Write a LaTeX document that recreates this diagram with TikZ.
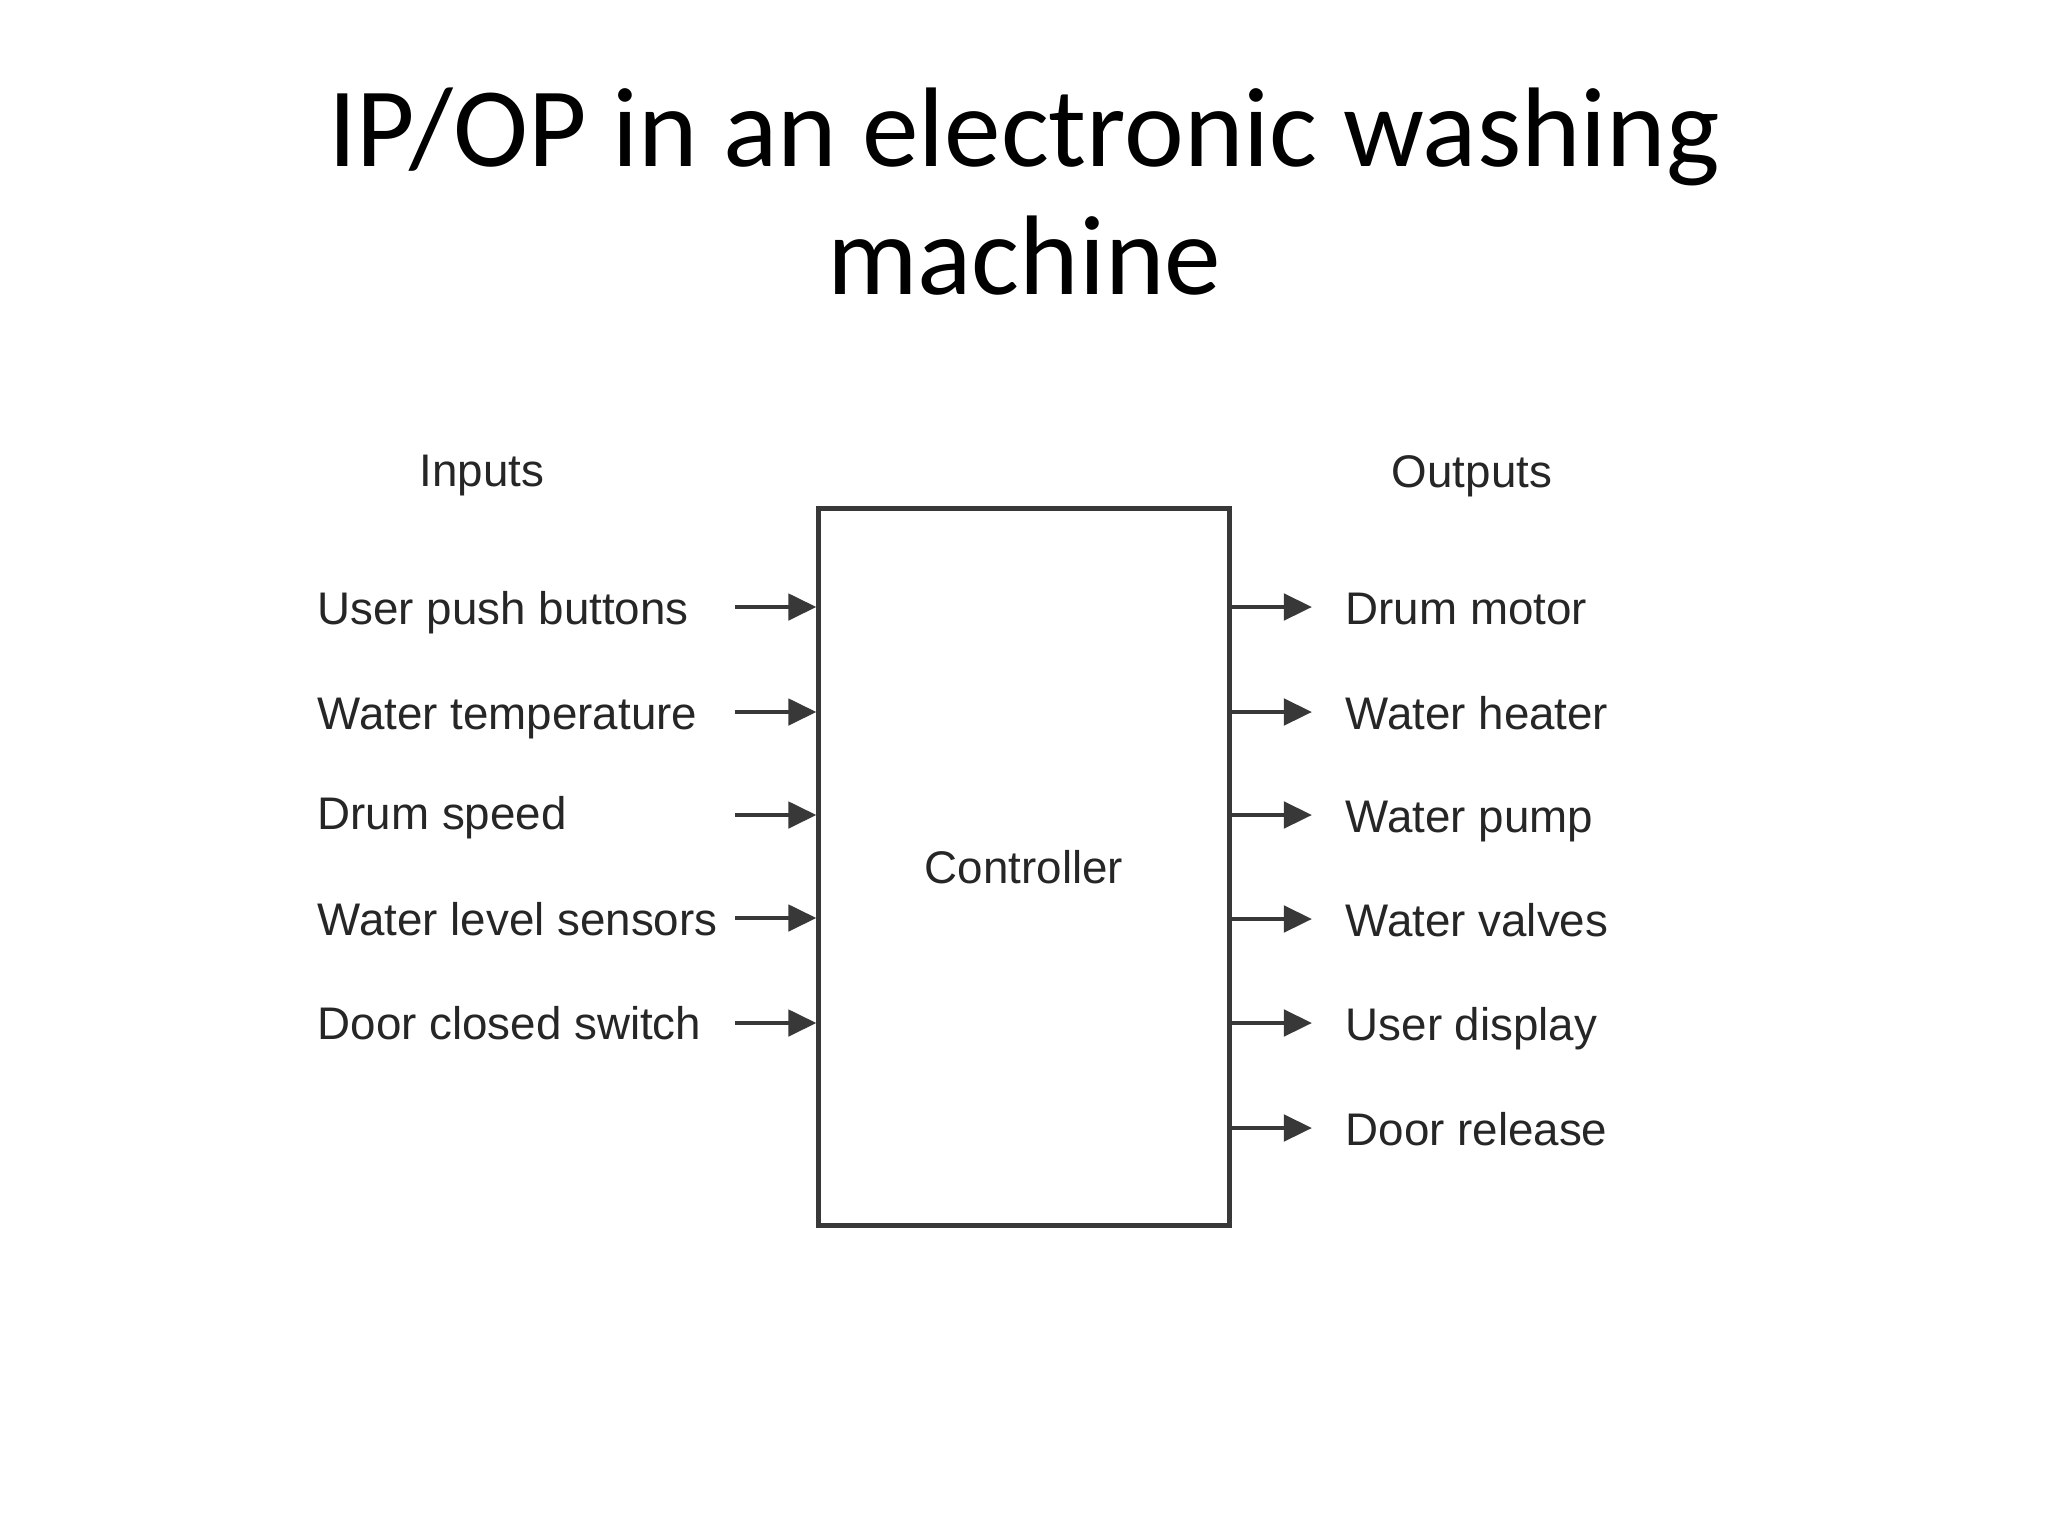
\documentclass[tikz,border=0pt]{standalone}
\usepackage{fontspec}
\setmainfont{Carlito}
\newfontfamily\labfont{Liberation Sans}
\usetikzlibrary{arrows.meta}
\definecolor{ink}{HTML}{262626}
\definecolor{linecol}{HTML}{383838}
\tikzset{
  titletext/.style={font=\fontsize{32.2pt}{36pt}\selectfont, text=black, inner sep=0pt, anchor=base},
  lab/.style={font=\labfont\fontsize{13pt}{15pt}\selectfont, text=ink, inner sep=0pt},
  inlab/.style={lab, anchor=base west},
  outlab/.style={lab, anchor=base west},
  headlab/.style={lab, anchor=base},
  ctrlbox/.style={draw=linecol, line width=1.4pt, minimum width=4.1cm, minimum height=7.16cm, inner sep=0pt,
    font=\labfont\fontsize{13pt}{15pt}\selectfont, text=ink},
  arr/.style={draw=linecol, line width=1.3pt, -{Triangle[length=2.8mm, width=2.6mm]}}
}
\begin{document}
\begin{tikzpicture}[x=0.01cm, y=-0.01cm]
\useasboundingbox[fill=white] (0,0) rectangle (2048,1536);
% title
\node[titletext] (t1) at (1024,166) {IP/OP in an electronic washing};
\node[titletext] (t2) at (1024,294) {machine};
% controller box
\node[ctrlbox] (box) at (1024,867) {Controller};
% headings
\node[headlab] (hin) at (482,486) {Inputs};
\node[headlab] (hout) at (1472,487) {Outputs};
% inputs
\node[inlab] (in1) at (317,624) {User push buttons};
\node[inlab] (in2) at (317,729) {Water temperature};
\node[inlab] (in3) at (317,829) {Drum speed};
\node[inlab] (in4) at (317,935) {Water level sensors};
\node[inlab] (in5) at (317,1039) {Door closed switch};
\coordinate (a1) at (735,607);
\coordinate (a2) at (735,712);
\coordinate (a3) at (735,815);
\coordinate (a4) at (735,918);
\coordinate (a5) at (735,1023);
\foreach \i in {1,...,5} {\draw[arr] (a\i) -- (a\i -| box.west);}
% outputs
\node[outlab] (o1) at (1345,624) {Drum motor};
\node[outlab] (o2) at (1345,729) {Water heater};
\node[outlab] (o3) at (1345,832) {Water pump};
\node[outlab] (o4) at (1345,936) {Water valves};
\node[outlab] (o5) at (1345,1040) {User display};
\node[outlab] (o6) at (1345,1145) {Door release};
\coordinate (b1) at (1312,607);
\coordinate (b2) at (1312,712);
\coordinate (b3) at (1312,815);
\coordinate (b4) at (1312,919);
\coordinate (b5) at (1312,1023);
\coordinate (b6) at (1312,1128);
\foreach \i in {1,...,6} {\draw[arr] (b\i -| box.east) -- (b\i);}
\end{tikzpicture}
\end{document}
